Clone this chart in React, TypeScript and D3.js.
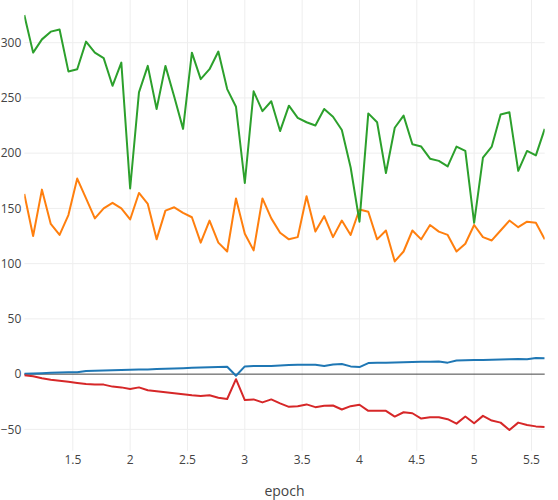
import { useEffect, useRef } from "react";
import * as d3 from "d3";

const EPOCHS = [
  1.0769, 1.1538, 1.2308, 1.3077, 1.3846, 1.4615, 1.5385, 1.6154, 1.6923, 1.7692,
  1.8462, 1.9231, 2.0, 2.0769, 2.1538, 2.2308, 2.3077, 2.3846, 2.4615, 2.5385,
  2.6154, 2.6923, 2.7692, 2.8462, 2.9231, 3.0, 3.0769, 3.1538, 3.2308, 3.3077,
  3.3846, 3.4615, 3.5385, 3.6154, 3.6923, 3.7692, 3.8462, 3.9231, 4.0, 4.0769,
  4.1538, 4.2308, 4.3077, 4.3846, 4.4615, 4.5385, 4.6154, 4.6923, 4.7692, 4.8462,
  4.9231, 5.0, 5.0769, 5.1538, 5.2308, 5.3077, 5.3846, 5.4615, 5.5385, 5.6154,
];

const BLUE = [
  0.3, 0.6, 0.9, 1.2, 1.5, 1.8, 1.6, 2.9, 3.1, 3.3,
  3.5, 3.7, 3.9, 4.1, 4.3, 4.6, 4.9, 5.2, 5.4, 5.7,
  6.1, 6.2, 6.4, 6.7, -1.5, 7.0, 7.3, 7.3, 7.3, 7.9,
  8.2, 8.5, 8.5, 8.5, 7.3, 8.8, 9.1, 7.0, 6.4, 10.0,
  10.2, 10.3, 10.5, 10.7, 10.9, 11.1, 11.3, 11.5, 10.4, 12.3,
  12.5, 12.7, 12.9, 13.1, 13.3, 13.5, 13.6, 13.5, 14.5, 14.3,
];

const ORANGE = [
  163, 125, 167, 136, 126, 144, 177, 159, 141, 150,
  155, 150, 140, 164, 154, 122, 148, 151, 146, 142,
  119, 139, 119, 111, 159, 127, 112, 159, 141, 128,
  122, 124, 161, 129, 143, 124, 139, 126, 149, 147,
  122, 130, 102, 111, 130, 122, 135, 129, 126, 111,
  118, 135, 124, 121, 130, 139, 133, 138, 137, 122,
];

const GREEN = [
  325, 291, 303, 310, 312, 274, 276, 301, 291, 286,
  261, 282, 168, 255, 279, 240, 279, 251, 222, 291,
  267, 276, 292, 258, 242, 173, 256, 238, 247, 220,
  243, 232, 228, 225, 240, 233, 221, 187, 138, 236,
  228, 182, 223, 234, 208, 206, 195, 193, 188, 206,
  202, 137, 196, 206, 235, 237, 184, 202, 198, 222,
];

const RED = [
  -1, -2, -3.7, -5, -6, -7, -8, -9, -9.5, -9.5,
  -11.3, -12, -13.4, -12, -14.6, -15.5, -16.5, -17.4, -18.3, -19.2,
  -19.9, -19.2, -21.3, -22.5, -4.6, -23.5, -22.9, -25.6, -22.9, -26.5,
  -29.6, -29, -27.4, -29.9, -28.7, -28.4, -32, -29, -27.7, -33.2,
  -33.2, -33.2, -38.4, -34.5, -35.4, -40.2, -39, -39, -40.8, -44.8,
  -38.4, -44.5, -37.8, -42, -43.9, -50.6, -43.9, -46, -47.3, -47.9,
];

const SERIES = [
  { values: BLUE, color: "#1f77b4" },
  { values: ORANGE, color: "#ff7f0e" },
  { values: GREEN, color: "#2ca02c" },
  { values: RED, color: "#d62728" },
];

const X_TICKS = [1.5, 2, 2.5, 3, 3.5, 4, 4.5, 5, 5.5];
const Y_TICKS = [-50, 0, 50, 100, 150, 200, 250, 300];

const WIDTH = 558;
const HEIGHT = 500;
const FONT = "'Open Sans', Verdana, Arial, sans-serif";

export default function App() {
  const svgRef = useRef<SVGSVGElement>(null);

  useEffect(() => {
    if (!svgRef.current) return;
    const svg = d3.select(svgRef.current);
    svg.selectAll("*").remove();

    const left = 24.3;
    const right = 544.7;
    const bottom = 450.8;

    const x = d3.scaleLinear().domain([EPOCHS[0], EPOCHS[EPOCHS.length - 1]]).range([left, right]);
    const y = d3.scaleLinear().domain([-69.4, 343.8]).range([bottom, -5.7]);

    svg.append("defs")
      .append("clipPath")
      .attr("id", "plot-clip")
      .append("rect")
      .attr("x", left)
      .attr("y", 0)
      .attr("width", right - left)
      .attr("height", bottom);

    // grid
    const grid = svg.append("g");
    grid.selectAll("line.vx")
      .data(X_TICKS)
      .join("line")
      .attr("x1", (d) => x(d))
      .attr("x2", (d) => x(d))
      .attr("y1", 0)
      .attr("y2", bottom)
      .attr("stroke", "#eee")
      .attr("stroke-width", 1);
    grid.selectAll("line.hy")
      .data(Y_TICKS.filter((d) => d !== 0))
      .join("line")
      .attr("x1", left)
      .attr("x2", right)
      .attr("y1", (d) => y(d))
      .attr("y2", (d) => y(d))
      .attr("stroke", "#eee")
      .attr("stroke-width", 1);

    // zero line
    svg.append("line")
      .attr("x1", left)
      .attr("x2", right)
      .attr("y1", y(0))
      .attr("y2", y(0))
      .attr("stroke", "#444")
      .attr("stroke-width", 1);

    const line = d3
      .line<number>()
      .x((_, i) => x(EPOCHS[i]))
      .y((d) => y(d));

    const plot = svg.append("g").attr("clip-path", "url(#plot-clip)");
    SERIES.forEach((s) => {
      plot.append("path")
        .attr("d", line(s.values))
        .attr("fill", "none")
        .attr("stroke", s.color)
        .attr("stroke-width", 2)
        .attr("stroke-linejoin", "round");
    });

    // tick labels
    svg.append("g")
      .selectAll("text")
      .data(Y_TICKS)
      .join("text")
      .attr("x", left - 3)
      .attr("y", (d) => y(d))
      .attr("dy", "0.35em")
      .attr("text-anchor", "end")
      .attr("font-family", FONT)
      .attr("font-size", 12)
      .attr("fill", "#444")
      .text((d) => (d < 0 ? `\u2212${Math.abs(d)}` : `${d}`));

    svg.append("g")
      .selectAll("text")
      .data(X_TICKS)
      .join("text")
      .attr("x", (d) => x(d))
      .attr("y", 464)
      .attr("text-anchor", "middle")
      .attr("font-family", FONT)
      .attr("font-size", 12)
      .attr("fill", "#444")
      .text((d) => `${d}`);

    svg.append("text")
      .attr("x", (left + right) / 2)
      .attr("y", 496)
      .attr("text-anchor", "middle")
      .attr("font-family", FONT)
      .attr("font-size", 14)
      .attr("fill", "#444")
      .text("epoch");
  }, []);

  return (
    <svg
      ref={svgRef}
      width={WIDTH}
      height={HEIGHT}
      style={{ position: "absolute", left: 0, top: 0, background: "#fff" }}
    />
  );
}
